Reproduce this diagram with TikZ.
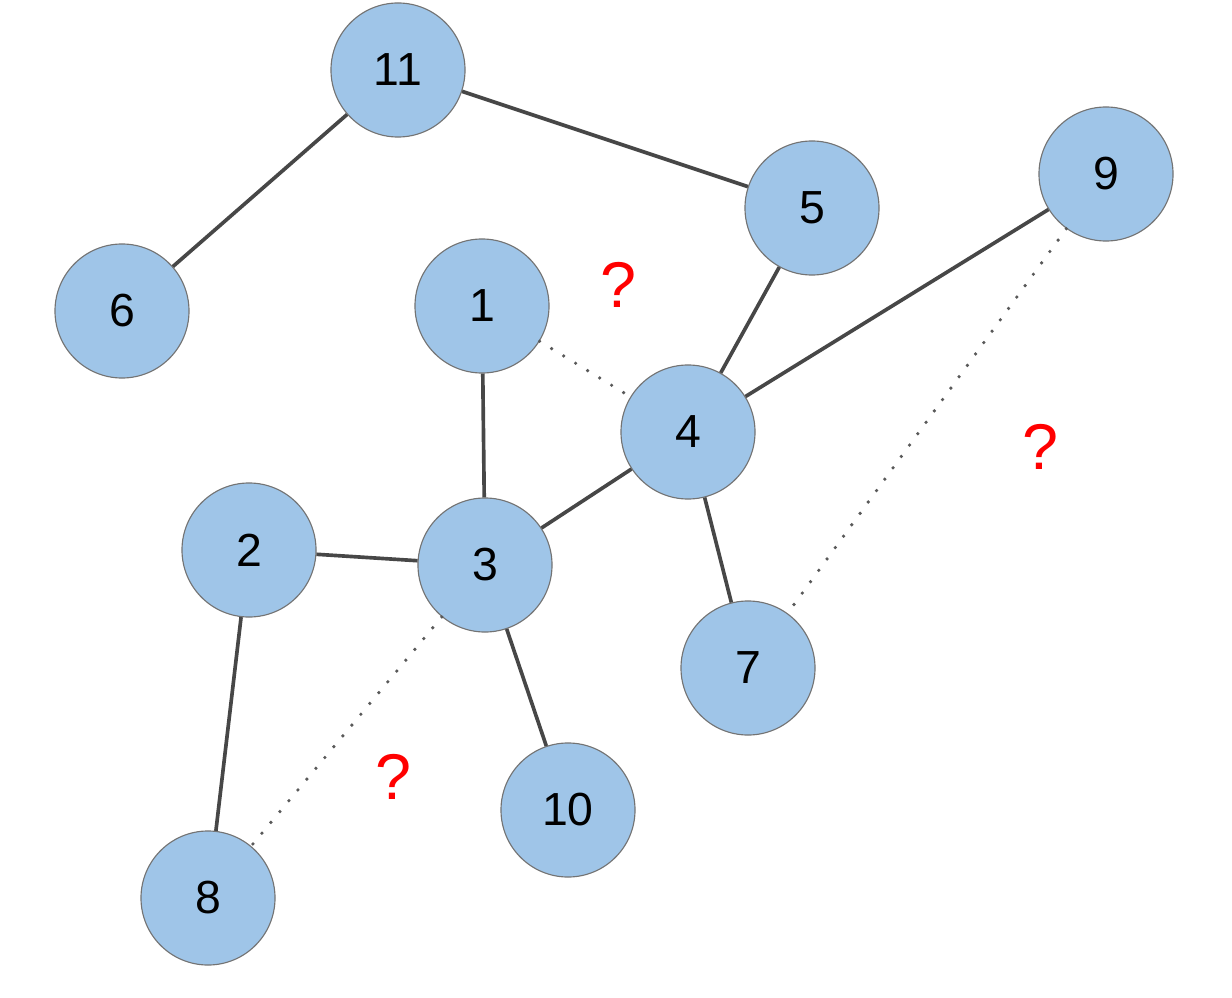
\documentclass[tikz,border=0pt]{standalone}
\usepackage{fontspec}
\setmainfont{Liberation Sans}
\begin{document}
\begin{tikzpicture}[x=0.025cm,y=-0.025cm,
  vtx/.style={circle,draw=black!55,line width=0.8pt,fill={rgb,255:red,159;green,197;blue,232},minimum size=3.35cm,inner sep=0pt,font=\fontsize{33}{33}\selectfont},
  edge/.style={draw=black!72,line width=2.6pt},
  dots/.style={draw=black!65,line width=2.6pt,line cap=round,dash pattern=on 0pt off 10pt},
  qm/.style={text=red,font=\fontsize{46}{46}\selectfont}]
\useasboundingbox (0,0) rectangle (1232,998);
\node[vtx] (n11) at (398,70) {11};
\node[vtx] (n5) at (812,208) {5};
\node[vtx] (n9) at (1106,174) {9};
\node[vtx] (n6) at (122,311) {6};
\node[vtx] (n1) at (482,306) {1};
\node[vtx] (n4) at (688,432) {4};
\node[vtx] (n2) at (249,550) {2};
\node[vtx] (n3) at (485,565) {3};
\node[vtx] (n7) at (748,668) {7};
\node[vtx] (n10) at (568,810) {10};
\node[vtx] (n8) at (208,898) {8};
\begin{scope}[on background layer/.style={}]
\end{scope}
\draw[edge] (n11) -- (n6);
\draw[edge] (n11) -- (n5);
\draw[edge] (n5) -- (n4);
\draw[edge] (n9) -- (n4);
\draw[edge] (n1) -- (n3);
\draw[edge] (n4) -- (n3);
\draw[edge] (n4) -- (n7);
\draw[edge] (n2) -- (n3);
\draw[edge] (n3) -- (n10);
\draw[edge] (n2) -- (n8);
\draw[dots] (n1) -- (n4);
\draw[dots] (n9) -- (n7);
\draw[dots] (n3) -- (n8);
\node[qm] (q1) at (618,285) {?};
\node[qm] (q2) at (1040,447) {?};
\node[qm] (q3) at (393,777) {?};
\end{tikzpicture}
\end{document}
